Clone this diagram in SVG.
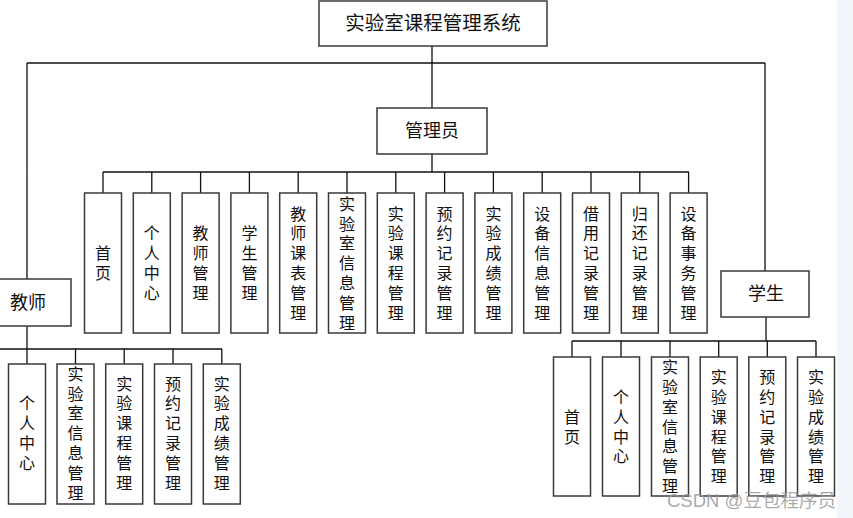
<svg xmlns="http://www.w3.org/2000/svg" width="853" height="518" viewBox="0 0 853 518">
<style>
.box{fill:#fff;stroke:#3a3a3a;stroke-width:1.5}
.ln{stroke:#111;stroke-width:1.3;fill:none}
.t{font-family:"Noto Sans CJK SC","Noto Sans",sans-serif;fill:#111;text-anchor:middle}
.v{font-size:16px;writing-mode:vertical-rl;letter-spacing:3.8px}
.h{font-size:18px}
.wm{font-family:"Liberation Sans","Noto Sans CJK SC",sans-serif;font-size:18px;fill:#9a9a9a;fill-opacity:0.85}
</style>
<rect x="0" y="0" width="853" height="518" fill="#fff"/>
<rect x="837" y="0" width="16" height="518" fill="#f2f5fa"/>
<g id="connectors">
<path class="ln" d="M432 46V108M27 63H765M27 63V279M765 63V271M432 154V172M103 172H689"/>
<path class="ln" d="M103 172V193M151.8 172V193M200.6 172V193M249.4 172V193M298.2 172V193M347 172V193M395.8 172V193M444.6 172V193M493.4 172V193M542.2 172V193M591 172V193M639.8 172V193M688.6 172V193"/>
<path class="ln" d="M27 326V364M0 349H222M75.5 349V364M124.2 349V364M173 349V364M221.8 349V364"/>
<path class="ln" d="M766 317V341M572 341H816M572 341V357M621 341V357M670 341V357M718.7 341V357M767.3 341V357M816 341V357"/>
</g>
<g id="title"><rect class="box" x="319" y="1" width="228" height="45"/><text class="t" x="433" y="30" style="font-size:19.5px">实验室课程管理系统</text></g>
<g id="admin"><rect class="box" x="377" y="108" width="110" height="46"/><text class="t h" x="432" y="137">管理员</text></g>
<g id="teacher"><rect class="box" x="-2" y="279" width="73" height="47"/><text class="t h" x="28" y="309">教师</text></g>
<g id="student"><rect class="box" x="721" y="271" width="88" height="46"/><text class="t h" x="766" y="300">学生</text></g>

<g id="a1"><rect class="box" x="84.5" y="193" width="37" height="140"/><text class="t v" x="103" y="265">首页</text></g>
<g id="a2"><rect class="box" x="133.3" y="193" width="37" height="140"/><text class="t v" x="151.8" y="265">个人中心</text></g>
<g id="a3"><rect class="box" x="182.1" y="193" width="37" height="140"/><text class="t v" x="200.6" y="265">教师管理</text></g>
<g id="a4"><rect class="box" x="230.9" y="193" width="37" height="140"/><text class="t v" x="249.4" y="265">学生管理</text></g>
<g id="a5"><rect class="box" x="279.7" y="193" width="37" height="140"/><text class="t v" x="298.2" y="265">教师课表管理</text></g>
<g id="a6"><rect class="box" x="328.5" y="193" width="37" height="140"/><text class="t v" x="347" y="265">实验室信息管理</text></g>
<g id="a7"><rect class="box" x="377.3" y="193" width="37" height="140"/><text class="t v" x="395.8" y="265">实验课程管理</text></g>
<g id="a8"><rect class="box" x="426.1" y="193" width="37" height="140"/><text class="t v" x="444.6" y="265">预约记录管理</text></g>
<g id="a9"><rect class="box" x="474.9" y="193" width="37" height="140"/><text class="t v" x="493.4" y="265">实验成绩管理</text></g>
<g id="a10"><rect class="box" x="523.7" y="193" width="37" height="140"/><text class="t v" x="542.2" y="265">设备信息管理</text></g>
<g id="a11"><rect class="box" x="572.5" y="193" width="37" height="140"/><text class="t v" x="591" y="265">借用记录管理</text></g>
<g id="a12"><rect class="box" x="621.3" y="193" width="37" height="140"/><text class="t v" x="639.8" y="265">归还记录管理</text></g>
<g id="a13"><rect class="box" x="670.1" y="193" width="37" height="140"/><text class="t v" x="688.6" y="265">设备事务管理</text></g>

<g id="t1"><rect class="box" x="8.5" y="364" width="37" height="140"/><text class="t v" x="27" y="435">个人中心</text></g>
<g id="t2"><rect class="box" x="57" y="364" width="37" height="140"/><text class="t v" x="75.5" y="435">实验室信息管理</text></g>
<g id="t3"><rect class="box" x="105.7" y="364" width="37" height="140"/><text class="t v" x="124.2" y="435">实验课程管理</text></g>
<g id="t4"><rect class="box" x="154.5" y="364" width="37" height="140"/><text class="t v" x="173" y="435">预约记录管理</text></g>
<g id="t5"><rect class="box" x="203.3" y="364" width="37" height="140"/><text class="t v" x="221.8" y="435">实验成绩管理</text></g>

<g id="s1"><rect class="box" x="553.5" y="357" width="37" height="139"/><text class="t v" x="572" y="428.5">首页</text></g>
<g id="s2"><rect class="box" x="602.5" y="357" width="37" height="139"/><text class="t v" x="621" y="428.5">个人中心</text></g>
<g id="s3"><rect class="box" x="651.5" y="357" width="37" height="139"/><text class="t v" x="670" y="428.5">实验室信息管理</text></g>
<g id="s4"><rect class="box" x="700.2" y="357" width="37" height="139"/><text class="t v" x="718.7" y="428.5">实验课程管理</text></g>
<g id="s5"><rect class="box" x="748.8" y="357" width="37" height="139"/><text class="t v" x="767.3" y="428.5">预约记录管理</text></g>
<g id="s6"><rect class="box" x="797.5" y="357" width="37" height="139"/><text class="t v" x="816" y="428.5">实验成绩管理</text></g>

<text class="wm" x="667" y="507" textLength="169" lengthAdjust="spacingAndGlyphs">CSDN @豆包程序员</text>
</svg>
